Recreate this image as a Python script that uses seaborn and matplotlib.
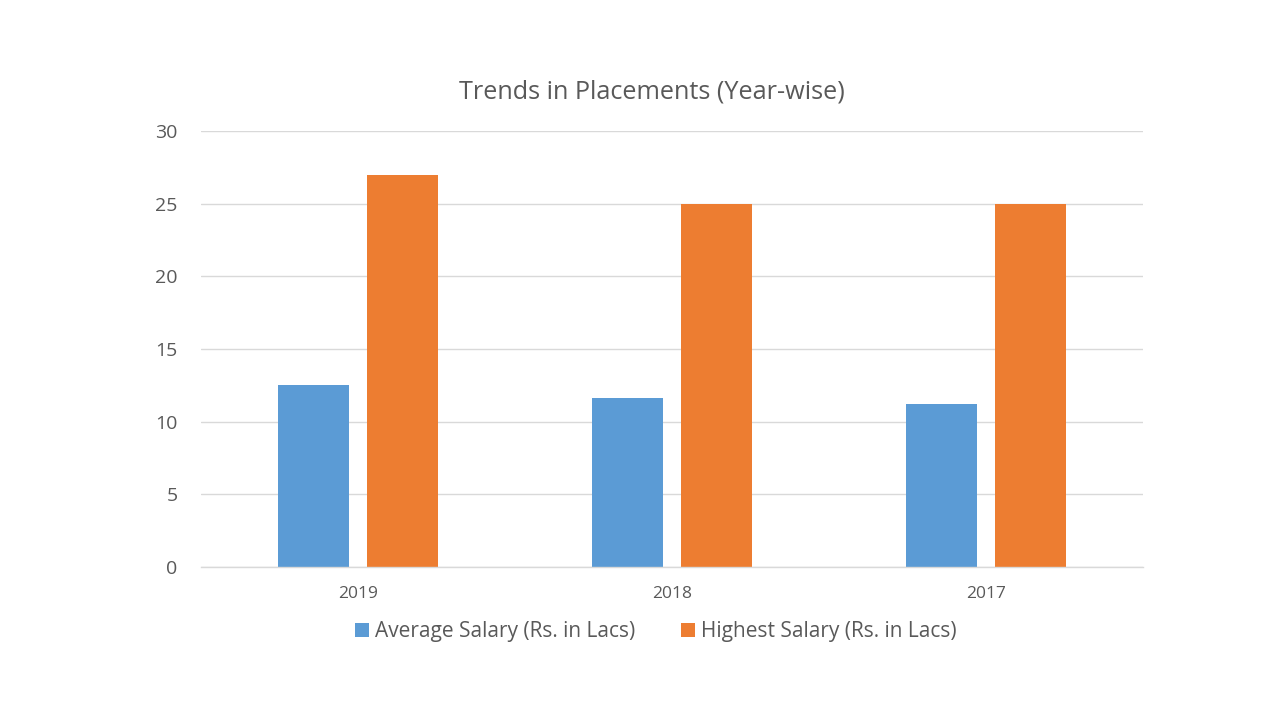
import matplotlib
matplotlib.use("Agg")
import matplotlib.pyplot as plt
import seaborn as sns
import pandas as pd

years = ["2019", "2018", "2017"]
avg_salary = [12.5, 11.6, 11.2]
high_salary = [27, 25, 25]
series_names = ["Average Salary (Rs. in Lacs)", "Highest Salary (Rs. in Lacs)"]
colors = ["#5B9BD5", "#ED7D31"]

df = pd.DataFrame({
    "Year": years * 2,
    "Value": avg_salary + high_salary,
    "Series": [series_names[0]] * 3 + [series_names[1]] * 3,
})

sns.set_theme(style="white")
plt.rcParams["font.family"] = ["Open Sans", "DejaVu Sans"]

fig = plt.figure(figsize=(12.8, 7.2), dpi=100)
ax = fig.add_axes([201/1280, 1-567/720, (1143-201)/1280, (567-131)/720])

sns.barplot(data=df, x="Year", y="Value", hue="Series", order=years,
            hue_order=series_names, palette=colors, width=0.567, gap=0.213,
            saturation=1, linewidth=0, edgecolor="none", ax=ax, legend=True)

ax.set_ylim(0, 30)
ax.set_xlim(-0.5, 2.5)
ax.set_yticks([0, 5, 10, 15, 20, 25, 30])
ax.yaxis.grid(True, color="#d9d9d9", linewidth=1)
ax.set_axisbelow(True)
for s in ["top", "right", "left"]:
    ax.spines[s].set_visible(False)
ax.spines["bottom"].set_color("#d9d9d9")
ax.spines["bottom"].set_linewidth(1)
ax.tick_params(axis="y", length=0, labelsize=14, labelcolor="#595959", pad=17)
ax.tick_params(axis="x", length=0, labelsize=12.5, labelcolor="#595959", pad=14)
ax.set_xlabel("")
ax.set_ylabel("")

fig.text(652/1280, 1-92/720, "Trends in Placements (Year-wise)", ha="center", va="center",
         fontsize=18.2, color="#595959")

leg = ax.legend(loc="center", bbox_to_anchor=(656/1280, 1-632/720), bbox_transform=fig.transFigure,
                ncol=2, frameon=False, fontsize=15, handlelength=0.65, handleheight=0.65,
                handletextpad=0.3, columnspacing=2.2)
for t in leg.get_texts():
    t.set_color("#595959")

fig.savefig("out.png", dpi=100)
